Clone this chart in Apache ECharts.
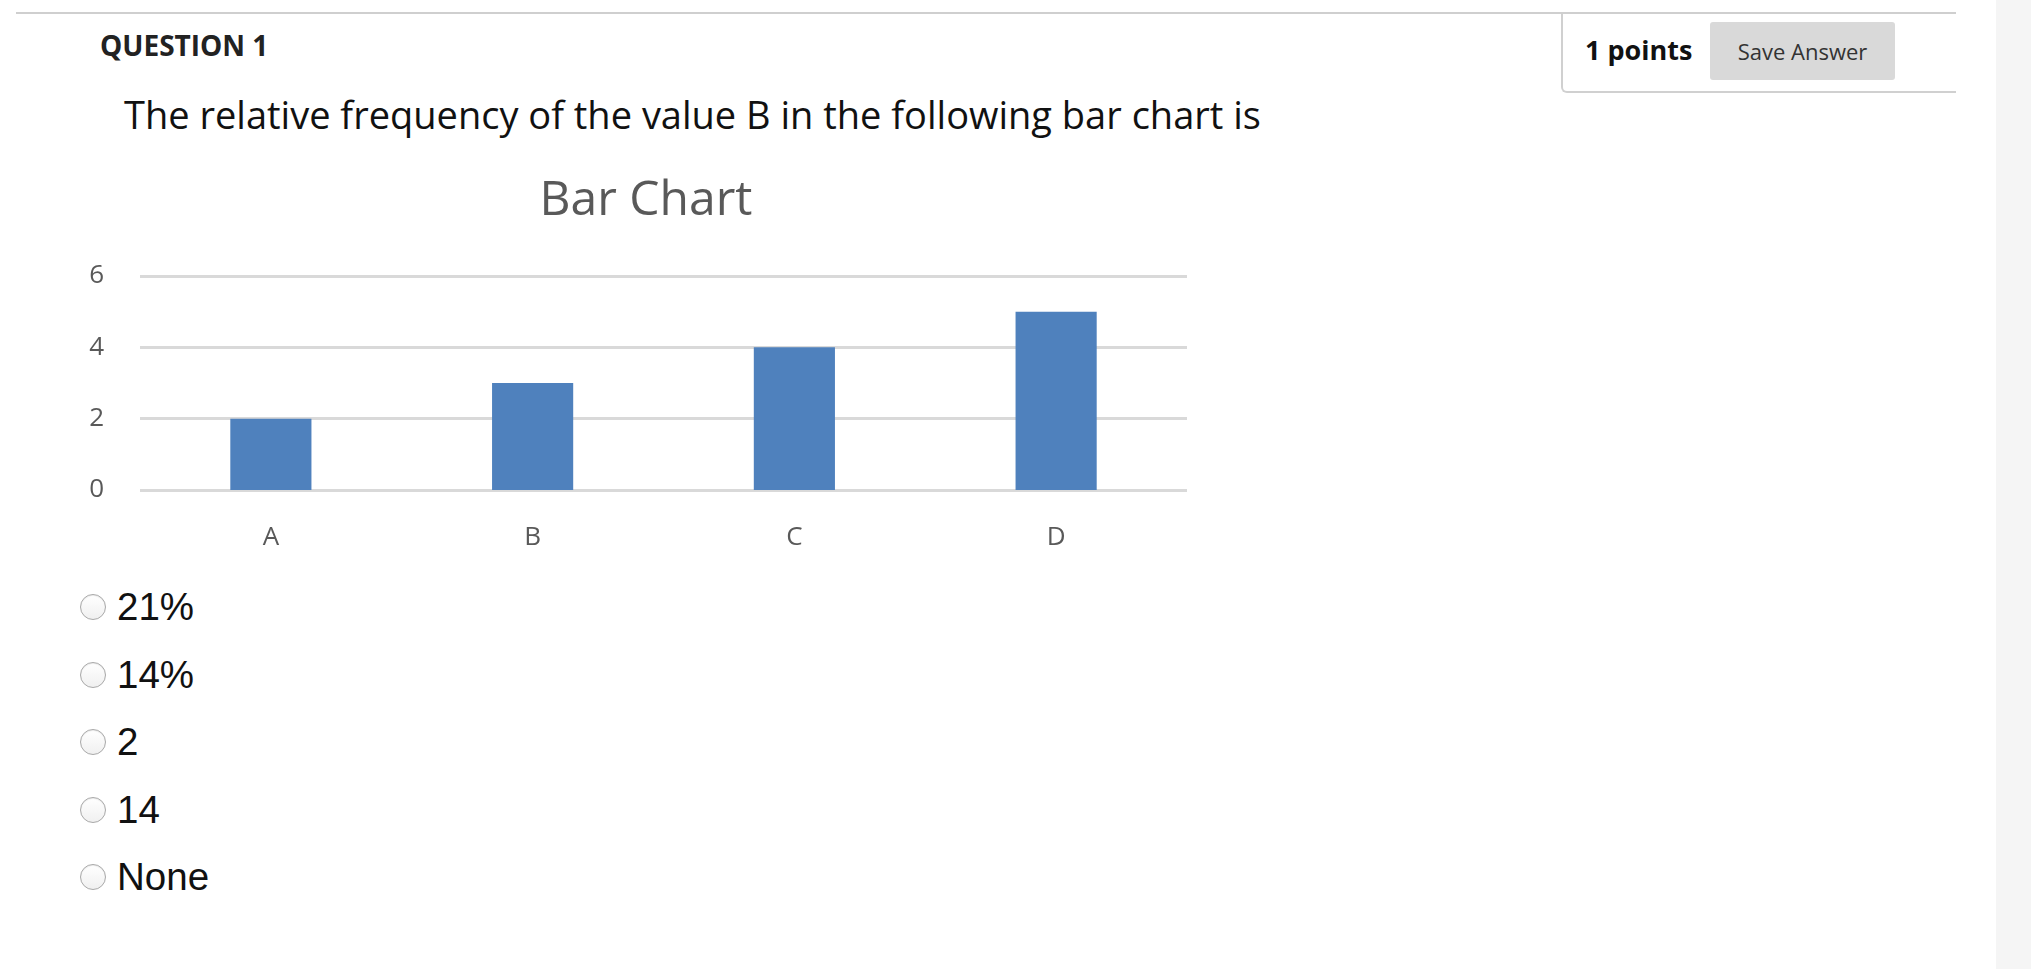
<!DOCTYPE html>
<html>
<head>
<meta charset="utf-8">
<script src="https://cdn.jsdelivr.net/npm/echarts@6/dist/echarts.min.js"></script>
<style>
  html, body { margin:0; padding:0; background:#fff; width:2031px; height:969px; overflow:hidden; }
  body { position:relative; font-family:"Open Sans", sans-serif; }
  .strip { position:absolute; left:1996px; top:0; width:35px; height:969px; background:#f5f5f5; }
  .topline { position:absolute; left:16px; top:12px; width:1940px; height:2px; background:#cfcfcf; }
  .ptsbox { position:absolute; left:1561px; top:14px; width:393px; height:77px; border-left:2px solid #d0d0d0; border-bottom:2px solid #d0d0d0; border-bottom-left-radius:6px; }
  .qnum { position:absolute; left:100px; top:26px; font-size:28px; font-weight:700; color:#222; line-height:38px; }
  .pts { position:absolute; left:1585px; top:31px; font-size:27px; font-weight:700; color:#111; line-height:38px; }
  .btn { position:absolute; left:1710px; top:22px; width:185px; height:58px; background:#d9d9d9; border-radius:3px; font-size:22px; color:#333; line-height:58px; text-align:center; }
  .qtext { position:absolute; left:124px; top:89px; font-size:38px; color:#111; line-height:50px; white-space:nowrap; }
  #chart { position:absolute; left:0; top:150px; width:1292px; height:430px; }
  .opt { position:absolute; left:80px; height:50px; font-family:"Liberation Sans", Arial, sans-serif; font-size:38.5px; color:#111; line-height:50px; }
  .opt .radio { display:inline-block; width:24px; height:24px; border:1px solid #a8a8a8; border-radius:50%; vertical-align:middle; margin-right:11px; position:relative; top:-3px; background:linear-gradient(#fff,#f0f0f0); box-shadow: inset 0 1px 1px rgba(0,0,0,0.08); }
</style>
</head>
<body>
<div class="strip"></div>
<div class="topline"></div>
<div class="ptsbox"></div>
<div class="qnum">QUESTION 1</div>
<div class="pts">1 points</div>
<div class="btn">Save Answer</div>
<div class="qtext">The relative frequency of the value B in the following bar chart is</div>
<div id="chart"></div>
<div class="opt" style="top:582px"><span class="radio"></span>21%</div>
<div class="opt" style="top:650px"><span class="radio"></span>14%</div>
<div class="opt" style="top:717px"><span class="radio"></span>2</div>
<div class="opt" style="top:785px"><span class="radio"></span>14</div>
<div class="opt" style="top:852px"><span class="radio"></span>None</div>
<script>
const chartTitle = "Bar Chart";
const categories = ["A", "B", "C", "D"];
const values = [2, 3, 4, 5];
const yTicks = { min: 0, max: 6, interval: 2 };

const chart = echarts.init(document.getElementById('chart'), null, { renderer: 'canvas' });
chart.setOption({
  animation: false,
  title: {
    text: chartTitle,
    left: 'center',
    top: 22,
    textStyle: { fontFamily: 'Open Sans', fontSize: 48, fontWeight: 'normal', color: '#595959' }
  },
  grid: { left: 140, right: 105, top: 126, bottom: 90 },
  xAxis: {
    type: 'category',
    data: categories,
    axisLine: { show: false },
    axisTick: { show: false },
    axisLabel: { color: '#595959', fontFamily: 'Open Sans', fontSize: 26, margin: 35 }
  },
  yAxis: {
    type: 'value',
    min: yTicks.min, max: yTicks.max, interval: yTicks.interval,
    axisLine: { show: false },
    axisTick: { show: false },
    axisLabel: { color: '#595959', fontFamily: 'Open Sans', fontSize: 26, margin: 36 },
    splitLine: { lineStyle: { color: '#d9d9d9', width: 3 } }
  },
  series: [{
    type: 'bar',
    data: values,
    barWidth: '31%',
    itemStyle: { color: '#4f81bd' }
  }]
});
</script>
</body>
</html>
